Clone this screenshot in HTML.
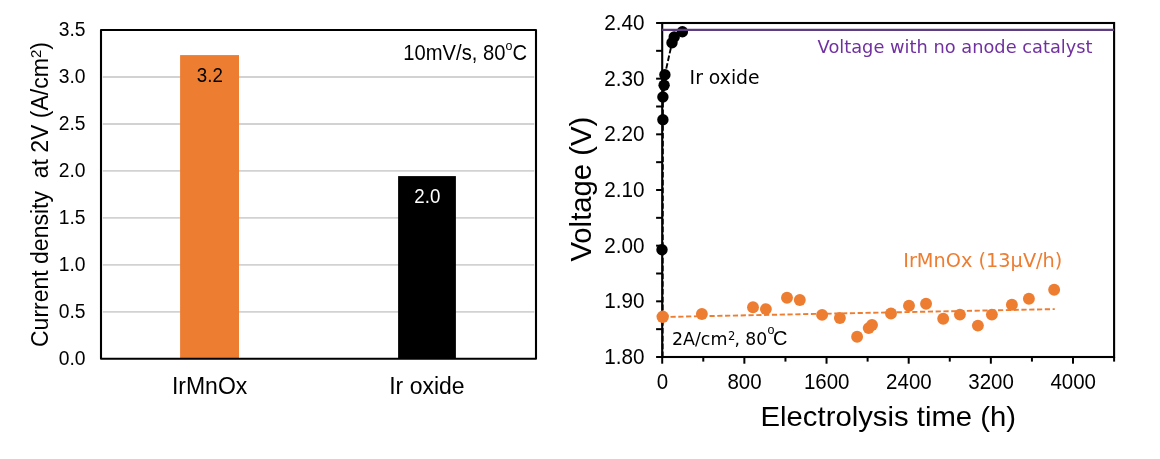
<!DOCTYPE html>
<html><head><meta charset="utf-8"><title>Electrolysis charts</title>
<style>html,body{margin:0;padding:0;background:#fff;}svg{display:block;}text{font-family:"Liberation Sans",sans-serif;fill:#000;}text.dj{font-family:"DejaVu Sans","Liberation Sans",sans-serif;}</style></head><body>
<svg width="1160" height="459" viewBox="0 0 1160 459">
<rect width="1160" height="459" fill="#fff"/>
<line x1="102.8" x2="534.2" y1="311.83" y2="311.83" stroke="#D2D2D2" stroke-width="1.9"/>
<line x1="102.8" x2="534.2" y1="264.86" y2="264.86" stroke="#D2D2D2" stroke-width="1.9"/>
<line x1="102.8" x2="534.2" y1="217.89" y2="217.89" stroke="#D2D2D2" stroke-width="1.9"/>
<line x1="102.8" x2="534.2" y1="170.91" y2="170.91" stroke="#D2D2D2" stroke-width="1.9"/>
<line x1="102.8" x2="534.2" y1="123.94" y2="123.94" stroke="#D2D2D2" stroke-width="1.9"/>
<line x1="102.8" x2="534.2" y1="76.97" y2="76.97" stroke="#D2D2D2" stroke-width="1.9"/>
<rect x="180.1" y="55.1" width="58.9" height="303.7" fill="#ED7D31"/>
<rect x="398.1" y="176.1" width="57.8" height="182.70000000000002" fill="#000"/>
<rect x="101" y="30" width="435" height="328.8" fill="none" stroke="#000" stroke-width="2.1" stroke-linejoin="round"/>
<text transform="translate(85.5,364.90) scale(1,1.045)" font-size="19.3" text-anchor="end">0.0</text>
<text transform="translate(85.5,317.93) scale(1,1.045)" font-size="19.3" text-anchor="end">0.5</text>
<text transform="translate(85.5,270.96) scale(1,1.045)" font-size="19.3" text-anchor="end">1.0</text>
<text transform="translate(85.5,223.99) scale(1,1.045)" font-size="19.3" text-anchor="end">1.5</text>
<text transform="translate(85.5,177.01) scale(1,1.045)" font-size="19.3" text-anchor="end">2.0</text>
<text transform="translate(85.5,130.04) scale(1,1.045)" font-size="19.3" text-anchor="end">2.5</text>
<text transform="translate(85.5,83.07) scale(1,1.045)" font-size="19.3" text-anchor="end">3.0</text>
<text transform="translate(85.5,36.10) scale(1,1.045)" font-size="19.3" text-anchor="end">3.5</text>
<text transform="translate(209.8,82.0) scale(1,1.04)" font-size="18.7" text-anchor="middle">3.2</text>
<text transform="translate(427.3,203.0) scale(1,1.04)" font-size="18.7" text-anchor="middle" style="fill:#fff">2.0</text>
<text transform="translate(209.6,393.6) scale(1,1.03)" font-size="23" text-anchor="middle">IrMnOx</text>
<text transform="translate(426.9,393.6) scale(1,1.03)" font-size="23" text-anchor="middle">Ir oxide</text>
<text transform="translate(527,59.7) scale(1,1.06)" font-size="20.2" text-anchor="end">10mV/s, 80<tspan font-size="12.5" dy="-9.1">o</tspan><tspan dy="9.1">C</tspan></text>
<text transform="translate(48.2,347) rotate(-90)" font-size="23" xml:space="preserve" style="white-space:pre">Current density  at 2V (A/cm<tspan font-size="15" dy="-7.5">2</tspan><tspan dy="7.5">)</tspan></text>
<rect x="662.2" y="23.0" width="451.89999999999986" height="334.0" fill="none" stroke="#000" stroke-width="2.1"/>
<line x1="656.1" x2="662.2" y1="357.00" y2="357.00" stroke="#000" stroke-width="2"/>
<line x1="656.1" x2="662.2" y1="329.17" y2="329.17" stroke="#000" stroke-width="2"/>
<line x1="656.1" x2="662.2" y1="301.33" y2="301.33" stroke="#000" stroke-width="2"/>
<line x1="656.1" x2="662.2" y1="273.50" y2="273.50" stroke="#000" stroke-width="2"/>
<line x1="656.1" x2="662.2" y1="245.67" y2="245.67" stroke="#000" stroke-width="2"/>
<line x1="656.1" x2="662.2" y1="217.83" y2="217.83" stroke="#000" stroke-width="2"/>
<line x1="656.1" x2="662.2" y1="190.00" y2="190.00" stroke="#000" stroke-width="2"/>
<line x1="656.1" x2="662.2" y1="162.17" y2="162.17" stroke="#000" stroke-width="2"/>
<line x1="656.1" x2="662.2" y1="134.33" y2="134.33" stroke="#000" stroke-width="2"/>
<line x1="656.1" x2="662.2" y1="106.50" y2="106.50" stroke="#000" stroke-width="2"/>
<line x1="656.1" x2="662.2" y1="78.67" y2="78.67" stroke="#000" stroke-width="2"/>
<line x1="656.1" x2="662.2" y1="50.83" y2="50.83" stroke="#000" stroke-width="2"/>
<line x1="656.1" x2="662.2" y1="23.00" y2="23.00" stroke="#000" stroke-width="2"/>
<line x1="662.20" x2="662.20" y1="357.0" y2="363.7" stroke="#000" stroke-width="2"/>
<line x1="703.28" x2="703.28" y1="357.0" y2="361.6" stroke="#000" stroke-width="2"/>
<line x1="744.36" x2="744.36" y1="357.0" y2="363.7" stroke="#000" stroke-width="2"/>
<line x1="785.45" x2="785.45" y1="357.0" y2="361.6" stroke="#000" stroke-width="2"/>
<line x1="826.53" x2="826.53" y1="357.0" y2="363.7" stroke="#000" stroke-width="2"/>
<line x1="867.61" x2="867.61" y1="357.0" y2="361.6" stroke="#000" stroke-width="2"/>
<line x1="908.69" x2="908.69" y1="357.0" y2="363.7" stroke="#000" stroke-width="2"/>
<line x1="949.77" x2="949.77" y1="357.0" y2="361.6" stroke="#000" stroke-width="2"/>
<line x1="990.85" x2="990.85" y1="357.0" y2="363.7" stroke="#000" stroke-width="2"/>
<line x1="1031.94" x2="1031.94" y1="357.0" y2="361.6" stroke="#000" stroke-width="2"/>
<line x1="1073.02" x2="1073.02" y1="357.0" y2="363.7" stroke="#000" stroke-width="2"/>
<line x1="1114.10" x2="1114.10" y1="357.0" y2="361.6" stroke="#000" stroke-width="2"/>
<text transform="translate(644.6,364.00) scale(1,1.07)" font-size="20.7" text-anchor="end">1.80</text>
<text transform="translate(644.6,308.33) scale(1,1.07)" font-size="20.7" text-anchor="end">1.90</text>
<text transform="translate(644.6,252.67) scale(1,1.07)" font-size="20.7" text-anchor="end">2.00</text>
<text transform="translate(644.6,197.00) scale(1,1.07)" font-size="20.7" text-anchor="end">2.10</text>
<text transform="translate(644.6,141.33) scale(1,1.07)" font-size="20.7" text-anchor="end">2.20</text>
<text transform="translate(644.6,85.67) scale(1,1.07)" font-size="20.7" text-anchor="end">2.30</text>
<text transform="translate(644.6,30.00) scale(1,1.07)" font-size="20.7" text-anchor="end">2.40</text>
<text transform="translate(662.40,389.0) scale(1,1.05)" font-size="20.5" text-anchor="middle">0</text>
<text transform="translate(744.56,389.0) scale(1,1.05)" font-size="20.5" text-anchor="middle">800</text>
<text transform="translate(826.73,389.0) scale(1,1.05)" font-size="20.5" text-anchor="middle">1600</text>
<text transform="translate(908.89,389.0) scale(1,1.05)" font-size="20.5" text-anchor="middle">2400</text>
<text transform="translate(991.05,389.0) scale(1,1.05)" font-size="20.5" text-anchor="middle">3200</text>
<text transform="translate(1073.22,389.0) scale(1,1.05)" font-size="20.5" text-anchor="middle">4000</text>
<path d="M662.6,357 L662.9,119.7 L662.9,97 L664.1,85.2 L664.9,74.7 L672,42.8 L674.2,37 L682.4,31.8" fill="none" stroke="#000" stroke-width="1.9" stroke-dasharray="5.6,2.2"/>
<circle cx="662.0" cy="249.8" r="5.7" fill="#000"/>
<circle cx="662.9" cy="119.7" r="5.7" fill="#000"/>
<circle cx="662.9" cy="97.0" r="5.7" fill="#000"/>
<circle cx="664.1" cy="85.2" r="5.7" fill="#000"/>
<circle cx="664.9" cy="74.7" r="5.7" fill="#000"/>
<circle cx="672" cy="42.8" r="5.7" fill="#000"/>
<circle cx="674.2" cy="37" r="5.7" fill="#000"/>
<circle cx="682.4" cy="31.8" r="5.7" fill="#000"/>
<line x1="662.2" x2="1114.1" y1="29.9" y2="29.9" stroke="#5E3C80" stroke-width="2.2"/>
<line x1="662.7" y1="317.0" x2="1054.8" y2="309.1" stroke="#ED7D31" stroke-width="1.9" stroke-dasharray="5.2,2.6"/>
<circle cx="662.7" cy="316.8" r="6.2" fill="#ED7D31"/>
<circle cx="701.9" cy="314.05" r="5.95" fill="#ED7D31"/>
<circle cx="753.0" cy="307.2" r="5.95" fill="#ED7D31"/>
<circle cx="765.9" cy="309.1" r="5.95" fill="#ED7D31"/>
<circle cx="787.0" cy="297.7" r="5.95" fill="#ED7D31"/>
<circle cx="799.8" cy="300" r="5.95" fill="#ED7D31"/>
<circle cx="822.1" cy="314.9" r="5.95" fill="#ED7D31"/>
<circle cx="839.9" cy="318" r="5.95" fill="#ED7D31"/>
<circle cx="857.1" cy="336.8" r="5.95" fill="#ED7D31"/>
<circle cx="868.7" cy="328.1" r="5.95" fill="#ED7D31"/>
<circle cx="872.0" cy="325.0" r="5.95" fill="#ED7D31"/>
<circle cx="891" cy="313.5" r="5.95" fill="#ED7D31"/>
<circle cx="909.0" cy="305.8" r="5.95" fill="#ED7D31"/>
<circle cx="926.05" cy="303.8" r="5.95" fill="#ED7D31"/>
<circle cx="943.2" cy="318.7" r="5.95" fill="#ED7D31"/>
<circle cx="959.9" cy="314.6" r="5.95" fill="#ED7D31"/>
<circle cx="977.9" cy="325.6" r="5.95" fill="#ED7D31"/>
<circle cx="991.9" cy="314.6" r="5.95" fill="#ED7D31"/>
<circle cx="1011.9" cy="304.7" r="5.95" fill="#ED7D31"/>
<circle cx="1028.9" cy="298.8" r="5.95" fill="#ED7D31"/>
<circle cx="1054.15" cy="289.7" r="5.95" fill="#ED7D31"/>
<text x="817.6" y="52.6" font-size="18.5" class="dj" style="fill:#7030A0" textLength="275" lengthAdjust="spacingAndGlyphs">Voltage with no anode catalyst</text>
<text x="689.6" y="83.6" font-size="19.2" class="dj" textLength="70.0" lengthAdjust="spacingAndGlyphs">Ir oxide</text>
<text x="903.2" y="266.6" font-size="19.3" class="dj" style="fill:#ED7D31" textLength="159.2" lengthAdjust="spacingAndGlyphs">IrMnOx (13µV/h)</text>
<text x="672.0" y="344.6" font-size="17.4" class="dj">2A/cm</text>
<text x="727.9" y="339.5" font-size="11.5" class="dj">2</text>
<text x="734.4" y="344.6" font-size="17.2" class="dj">, 80</text>
<text x="767.4" y="333.9" font-size="12.5">o</text>
<text x="773" y="344.9" font-size="20">C</text>
<text transform="translate(888.3,425.9) scale(1,0.97)" font-size="29.3" text-anchor="middle">Electrolysis time (h)</text>
<text transform="translate(590.9,261.6) rotate(-90)" font-size="29.3">Voltage (V)</text>
</svg></body></html>
